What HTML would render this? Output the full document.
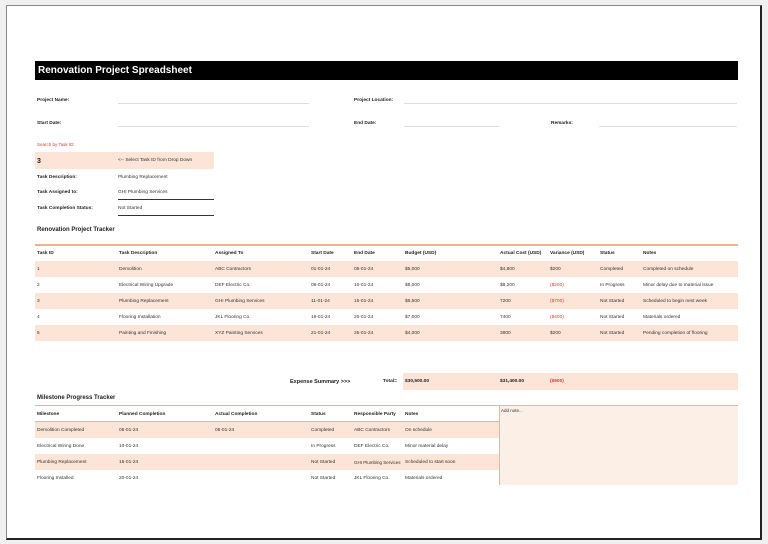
<!DOCTYPE html>
<html><head><meta charset="utf-8"><style>
*{margin:0;padding:0;box-sizing:border-box}
body{width:768px;height:544px;background:#f0f0f0;position:relative;overflow:hidden;font-family:"Liberation Sans",sans-serif;font-size:4.8px;color:#333}
#page{position:absolute;left:6px;top:5px;width:756px;height:535px;background:#fff;border:1px solid #222;border-top-color:#888;border-left-color:#888;border-right:2px solid #222;border-bottom:2px solid #222}
.t{position:absolute;white-space:nowrap;line-height:6px;margin-top:1px}
.b{font-weight:bold;color:#222}
.r{position:absolute}
.ln{position:absolute;height:1px;background:#ddd}
.red{color:#e53935}
</style></head><body>
<div id="page"></div>
<div class="r" style="left:35px;top:61px;width:703px;height:19px;background:#000"></div>
<div class="t" style="left:38px;top:64px;color:#fff;font-size:10px;line-height:12px;font-weight:bold">Renovation Project Spreadsheet</div>

<div class="t b" style="left:37px;top:97px">Project Name:</div>
<div class="ln" style="left:118px;top:103px;width:191px"></div>
<div class="t b" style="left:354px;top:97px">Project Location:</div>
<div class="ln" style="left:404px;top:103px;width:333px"></div>
<div class="t b" style="left:37px;top:120px">Start Date:</div>
<div class="ln" style="left:118px;top:126px;width:191px"></div>
<div class="t b" style="left:354px;top:120px">End Date:</div>
<div class="ln" style="left:404px;top:126px;width:95px"></div>
<div class="t b" style="left:551px;top:120px">Remarks:</div>
<div class="ln" style="left:599px;top:126px;width:138px"></div>

<div class="t red" style="left:37px;top:141px;font-size:4.5px">Search by Task ID:</div>
<div class="r" style="left:35px;top:152px;width:179px;height:17px;background:#fce4d6"></div>
<div class="t b" style="left:37px;top:157px;font-size:7px;line-height:7px">3</div>
<div class="t" style="left:118px;top:157px">&lt;-- Select Task ID from Drop Down</div>
<div class="t b" style="left:37px;top:174px">Task Description:</div>
<div class="t" style="left:118px;top:174px">Plumbing Replacement</div>
<div class="t b" style="left:37px;top:189px">Task Assigned to:</div>
<div class="t" style="left:118px;top:189px">GHI Plumbing Services</div>
<div class="r" style="left:118px;top:199px;width:96px;height:1px;background:#333"></div>
<div class="t b" style="left:37px;top:205px">Task Completion Status:</div>
<div class="t" style="left:118px;top:205px">Not Started</div>
<div class="r" style="left:118px;top:215px;width:96px;height:1px;background:#333"></div>

<div class="t b" style="left:37px;top:226px;font-size:6px">Renovation Project Tracker</div>
<div class="r" style="left:35px;top:244px;width:703px;height:2px;background:#f4b183"></div>

<div class="r" style="left:35px;top:261px;width:703px;height:16px;background:#fce4d6"></div>
<div class="r" style="left:35px;top:293px;width:703px;height:16px;background:#fce4d6"></div>
<div class="r" style="left:35px;top:325px;width:703px;height:16px;background:#fce4d6"></div>

<div class="t b" style="left:37px;top:250px">Task ID</div>
<div class="t b" style="left:119px;top:250px">Task Description</div>
<div class="t b" style="left:215px;top:250px">Assigned To</div>
<div class="t b" style="left:311px;top:250px">Start Date</div>
<div class="t b" style="left:354px;top:250px">End Date</div>
<div class="t b" style="left:405px;top:250px">Budget (USD)</div>
<div class="t b" style="left:500px;top:250px">Actual Cost (USD)</div>
<div class="t b" style="left:550px;top:250px">Variance (USD)</div>
<div class="t b" style="left:600px;top:250px">Status</div>
<div class="t b" style="left:643px;top:250px">Notes</div>

<div class="t" style="left:37px;top:266px">1</div><div class="t" style="left:119px;top:266px">Demolition</div><div class="t" style="left:215px;top:266px">ABC Contractors</div><div class="t" style="left:311px;top:266px">01-01-24</div><div class="t" style="left:354px;top:266px">05-01-24</div><div class="t" style="left:405px;top:266px">$5,000</div><div class="t" style="left:500px;top:266px">$4,800</div><div class="t" style="left:550px;top:266px">$200</div><div class="t" style="left:600px;top:266px">Completed</div><div class="t" style="left:643px;top:266px">Completed on schedule</div>

<div class="t" style="left:37px;top:282px">2</div><div class="t" style="left:119px;top:282px">Electrical Wiring Upgrade</div><div class="t" style="left:215px;top:282px">DEF Electric Co.</div><div class="t" style="left:311px;top:282px">06-01-24</div><div class="t" style="left:354px;top:282px">10-01-24</div><div class="t" style="left:405px;top:282px">$8,000</div><div class="t" style="left:500px;top:282px">$8,200</div><div class="t red" style="left:550px;top:282px">($200)</div><div class="t" style="left:600px;top:282px">In Progress</div><div class="t" style="left:643px;top:282px">Minor delay due to material issue</div>

<div class="t" style="left:37px;top:298px">3</div><div class="t" style="left:119px;top:298px">Plumbing Replacement</div><div class="t" style="left:215px;top:298px">GHI Plumbing Services</div><div class="t" style="left:311px;top:298px">11-01-24</div><div class="t" style="left:354px;top:298px">15-01-24</div><div class="t" style="left:405px;top:298px">$6,500</div><div class="t" style="left:500px;top:298px">7200</div><div class="t red" style="left:550px;top:298px">($700)</div><div class="t" style="left:600px;top:298px">Not Started</div><div class="t" style="left:643px;top:298px">Scheduled to begin next week</div>

<div class="t" style="left:37px;top:314px">4</div><div class="t" style="left:119px;top:314px">Flooring Installation</div><div class="t" style="left:215px;top:314px">JKL Flooring Co.</div><div class="t" style="left:311px;top:314px">16-01-24</div><div class="t" style="left:354px;top:314px">20-01-24</div><div class="t" style="left:405px;top:314px">$7,000</div><div class="t" style="left:500px;top:314px">7400</div><div class="t red" style="left:550px;top:314px">($400)</div><div class="t" style="left:600px;top:314px">Not Started</div><div class="t" style="left:643px;top:314px">Materials ordered</div>

<div class="t" style="left:37px;top:330px">5</div><div class="t" style="left:119px;top:330px">Painting and Finishing</div><div class="t" style="left:215px;top:330px">XYZ Painting Services</div><div class="t" style="left:311px;top:330px">21-01-24</div><div class="t" style="left:354px;top:330px">25-01-24</div><div class="t" style="left:405px;top:330px">$4,000</div><div class="t" style="left:500px;top:330px">3800</div><div class="t" style="left:550px;top:330px">$200</div><div class="t" style="left:600px;top:330px">Not Started</div><div class="t" style="left:643px;top:330px">Pending completion of flooring</div>

<div class="t b" style="left:290px;top:378px;font-size:5.5px">Expense Summary &gt;&gt;&gt;</div>
<div class="t b" style="left:383px;top:378px">Total=</div>
<div class="r" style="left:403px;top:373px;width:335px;height:17px;background:#fce4d6"></div>
<div class="t b" style="left:405px;top:378px">$30,500.00</div>
<div class="t b" style="left:500px;top:378px">$31,400.00</div>
<div class="t b red" style="left:550px;top:378px">($900)</div>

<div class="t b" style="left:37px;top:394px;font-size:6px">Milestone Progress Tracker</div>
<div class="r" style="left:35px;top:405px;width:703px;height:1px;background:#f4b183"></div>
<div class="r" style="left:499px;top:405px;width:239px;height:80px;background:#fcefe6;border-left:1px solid #f4b183;border-top:1px solid #f4b183"></div>
<div class="t" style="left:501px;top:407px;font-size:4.5px">Add note...</div>
<div class="r" style="left:35px;top:421px;width:464px;height:1px;background:#f4b183"></div>
<div class="r" style="left:35px;top:422px;width:464px;height:16px;background:#fce4d6"></div>
<div class="r" style="left:35px;top:454px;width:464px;height:16px;background:#fce4d6"></div>

<div class="t b" style="left:37px;top:411px">Milestone</div><div class="t b" style="left:119px;top:411px">Planned Completion</div><div class="t b" style="left:215px;top:411px">Actual Completion</div><div class="t b" style="left:311px;top:411px">Status</div><div class="t b" style="left:354px;top:411px">Responsible Party</div><div class="t b" style="left:405px;top:411px">Notes</div>

<div class="t" style="left:37px;top:427px">Demolition Completed</div><div class="t" style="left:119px;top:427px">05-01-24</div><div class="t" style="left:215px;top:427px">05-01-24</div><div class="t" style="left:311px;top:427px">Completed</div><div class="t" style="left:354px;top:427px">ABC Contractors</div><div class="t" style="left:405px;top:427px">On schedule</div>
<div class="t" style="left:37px;top:443px">Electrical Wiring Done</div><div class="t" style="left:119px;top:443px">10-01-24</div><div class="t" style="left:311px;top:443px">In Progress</div><div class="t" style="left:354px;top:443px">DEF Electric Co.</div><div class="t" style="left:405px;top:443px">Minor material delay</div>
<div class="t" style="left:37px;top:459px">Plumbing Replacement</div><div class="t" style="left:119px;top:459px">15-01-24</div><div class="t" style="left:311px;top:459px">Not Started</div><div class="t" style="left:354px;top:459px;font-size:4.5px">GHI Plumbing Services</div><div class="t" style="left:405px;top:459px">Scheduled to start soon</div>
<div class="t" style="left:37px;top:475px">Flooring Installed</div><div class="t" style="left:119px;top:475px">20-01-24</div><div class="t" style="left:311px;top:475px">Not Started</div><div class="t" style="left:354px;top:475px">JKL Flooring Co.</div><div class="t" style="left:405px;top:475px">Materials ordered</div>
</body></html>
